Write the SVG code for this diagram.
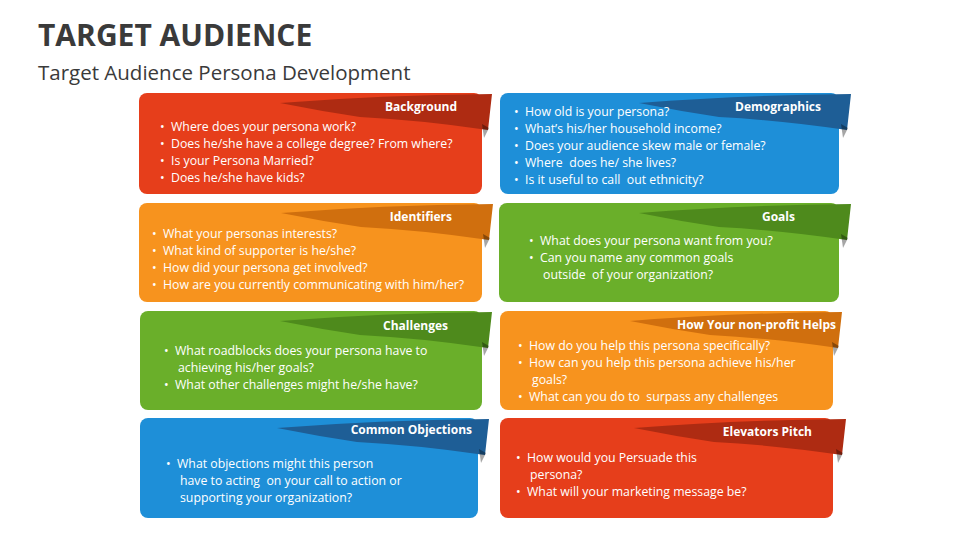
<svg xmlns="http://www.w3.org/2000/svg" width="960" height="540" viewBox="0 0 960 540">
<style>
.t{font-family:"Open Sans","Liberation Sans",sans-serif;fill:#fff;font-size:12.3px;white-space:pre}
.h{font-family:"Open Sans","Liberation Sans",sans-serif;fill:#fff;font-size:12px;font-weight:bold;text-anchor:end}
.red{fill:#E63E1B}.blue{fill:#1E8FD8}.org{fill:#F7931E}.grn{fill:#6AAF2A}
</style>
<defs>
<g id="rib"><path d="M-212,9 Q-112,1 0,0 L-4,36 Q-72,26 -132,23 Q-172,17 -212,9 Z"/><path d="M-10,30 L-3,34 L-8,44 Z" fill="#000" opacity="0.35"/></g>
</defs>
<rect width="960" height="540" fill="#fff"/>
<text x="38" y="46" font-family="Open Sans,Liberation Sans,sans-serif" font-size="30" font-weight="bold" fill="#3a3a3a">TARGET AUDIENCE</text>
<text x="38" y="80" font-family="Open Sans,Liberation Sans,sans-serif" font-size="20.5" fill="#3a3a3a">Target Audience Persona Development</text>

<g id="background">
<rect x="139" y="93" width="343" height="101" rx="8" class="red"/>
<use href="#rib" x="492" y="94" fill="#AE2B12"/>
<text x="457" y="111" class="h">Background</text>
<text class="t"><tspan x="160" y="131">•  Where does your persona work?</tspan><tspan x="160" y="148">•  Does he/she have a college degree? From where?</tspan><tspan x="160" y="165">•  Is your Persona Married?</tspan><tspan x="160" y="182">•  Does he/she have kids?</tspan></text>
</g>
<g id="demographics">
<rect x="500" y="93" width="339" height="101" rx="8" class="blue"/>
<use href="#rib" x="851" y="94" fill="#1E5E96"/>
<text x="821" y="111" class="h">Demographics</text>
<text class="t"><tspan x="514" y="116">•  How old is your persona?</tspan><tspan x="514" y="133">•  What’s his/her household income?</tspan><tspan x="514" y="150">•  Does your audience skew male or female?</tspan><tspan x="514" y="167">•  Where  does he/ she lives?</tspan><tspan x="514" y="184">•  Is it useful to call  out ethnicity?</tspan></text>
</g>
<g id="identifiers">
<rect x="139" y="203" width="343" height="99" rx="8" class="org"/>
<use href="#rib" x="493" y="204" fill="#D06F0E"/>
<text x="452" y="221" class="h">Identifiers</text>
<text class="t"><tspan x="152" y="238">•  What your personas interests?</tspan><tspan x="152" y="255">•  What kind of supporter is he/she?</tspan><tspan x="152" y="272">•  How did your persona get involved?</tspan><tspan x="152" y="289">•  How are you currently communicating with him/her?</tspan></text>
</g>
<g id="goals">
<rect x="499" y="203" width="340" height="99" rx="8" class="grn"/>
<use href="#rib" x="851" y="204" fill="#4E8A1C"/>
<text x="795" y="221" class="h">Goals</text>
<text class="t"><tspan x="529" y="245">•  What does your persona want from you?</tspan><tspan x="529" y="262">•  Can you name any common goals</tspan><tspan x="543" y="279">outside  of your organization?</tspan></text>
</g>
<g id="challenges">
<rect x="140" y="311" width="342" height="99" rx="8" class="grn"/>
<use href="#rib" x="492" y="312" fill="#4E8A1C"/>
<text x="448" y="330" class="h">Challenges</text>
<text class="t"><tspan x="164" y="355">•  What roadblocks does your persona have to</tspan><tspan x="178" y="372">achieving his/her goals?</tspan><tspan x="164" y="389">•  What other challenges might he/she have?</tspan></text>
</g>
<g id="helps">
<rect x="500" y="311" width="333" height="99" rx="8" class="org"/>
<use href="#rib" x="842" y="312" fill="#D06F0E"/>
<text x="836" y="329" class="h">How Your non-profit Helps</text>
<text class="t"><tspan x="518" y="350">•  How do you help this persona specifically?</tspan><tspan x="518" y="367">•  How can you help this persona achieve his/her</tspan><tspan x="532" y="384">goals?</tspan><tspan x="518" y="401">•  What can you do to  surpass any challenges</tspan></text>
</g>
<g id="objections">
<rect x="140" y="418" width="338" height="100" rx="8" class="blue"/>
<use href="#rib" x="489" y="419" fill="#1E5E96"/>
<text x="472" y="434" class="h">Common Objections</text>
<text class="t"><tspan x="166" y="468">•  What objections might this person</tspan><tspan x="180" y="485">have to acting  on your call to action or</tspan><tspan x="180" y="502">supporting your organization?</tspan></text>
</g>
<g id="pitch">
<rect x="500" y="418" width="333" height="100" rx="8" class="red"/>
<use href="#rib" x="846" y="419" fill="#AE2B12"/>
<text x="812" y="436" class="h">Elevators Pitch</text>
<text class="t"><tspan x="516" y="462">•  How would you Persuade this</tspan><tspan x="530" y="479">persona?</tspan><tspan x="516" y="496">•  What will your marketing message be?</tspan></text>
</g>
<g id="connectors"/>
</svg>
